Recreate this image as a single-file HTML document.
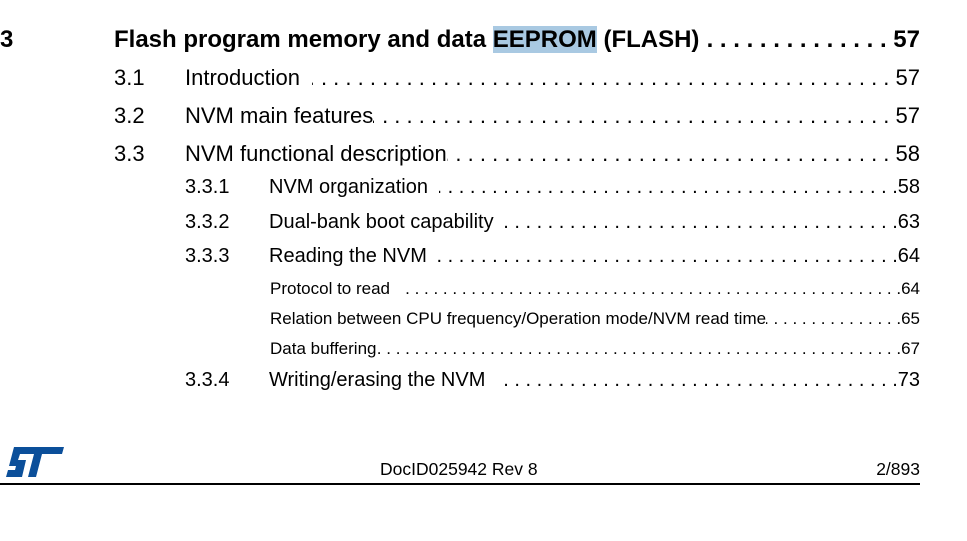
<!DOCTYPE html>
<html><head><meta charset="utf-8"><style>
html,body{margin:0;padding:0;background:#fff;}
body{width:967px;height:541px;position:relative;overflow:hidden;font-family:"Liberation Sans",Arial,sans-serif;color:#000;}
.r{position:absolute;display:flex;align-items:baseline;white-space:nowrap;right:47px;}
.l{flex:1;overflow:hidden;direction:rtl;text-align:left;white-space:nowrap;}
.l span{direction:ltr;}
.a{position:absolute;white-space:nowrap;}
</style></head><body>
<div class="a" style="left:0;top:26px;font-size:24px;font-weight:bold;">3</div>
<div class="r" style="left:114px;top:26px;font-size:24px;font-weight:bold;">
<span>Flash program memory and data <span style="background:#a9c9e2;">EEPROM</span> (FLASH)&nbsp;</span><span class="l"><span>. . . . . . . . . . . . . . . . . . . . . . . . . . . . . . . . . . . . . . . . . . . . . . . . </span></span><span>&nbsp;57</span></div>

<div class="a" style="left:114px;top:65px;font-size:22px;">3.1</div>
<div class="r" style="left:185px;top:65px;font-size:22px;"><span>Introduction &nbsp;</span><span class="l"><span>. . . . . . . . . . . . . . . . . . . . . . . . . . . . . . . . . . . . . . . . . . . . . . . . . . . . . . . . . . </span></span><span>&nbsp;57</span></div>

<div class="a" style="left:114px;top:103px;font-size:22px;">3.2</div>
<div class="r" style="left:185px;top:103px;font-size:22px;"><span>NVM main features</span><span class="l"><span>. . . . . . . . . . . . . . . . . . . . . . . . . . . . . . . . . . . . . . . . . . . . . . . . . . . . . . . . . . </span></span><span>&nbsp;57</span></div>

<div class="a" style="left:114px;top:141px;font-size:22px;">3.3</div>
<div class="r" style="left:185px;top:141px;font-size:22px;"><span>NVM functional description</span><span class="l"><span>. . . . . . . . . . . . . . . . . . . . . . . . . . . . . . . . . . . . . . . . . . . . . . . . . . . . . . . . . . </span></span><span>&nbsp;58</span></div>

<div class="a" style="left:185px;top:176px;font-size:20px;">3.3.1</div>
<div class="r" style="left:269px;top:176px;font-size:20px;"><span>NVM organization &nbsp;</span><span class="l"><span>. . . . . . . . . . . . . . . . . . . . . . . . . . . . . . . . . . . . . . . . . . . . . . . . . . . . . . . . . . </span></span><span>58</span></div>

<div class="a" style="left:185px;top:211px;font-size:20px;">3.3.2</div>
<div class="r" style="left:269px;top:211px;font-size:20px;"><span>Dual-bank boot capability &nbsp;</span><span class="l"><span>. . . . . . . . . . . . . . . . . . . . . . . . . . . . . . . . . . . . . . . . . . . . . . . . . . . . . . . . . . </span></span><span>63</span></div>

<div class="a" style="left:185px;top:245px;font-size:20px;">3.3.3</div>
<div class="r" style="left:269px;top:245px;font-size:20px;"><span>Reading the NVM &nbsp;</span><span class="l"><span>. . . . . . . . . . . . . . . . . . . . . . . . . . . . . . . . . . . . . . . . . . . . . . . . . . . . . . . . . . </span></span><span>64</span></div>

<div class="r" style="left:270px;top:279px;font-size:17px;"><span>Protocol to read &nbsp;</span><span class="l"><span>. . . . . . . . . . . . . . . . . . . . . . . . . . . . . . . . . . . . . . . . . . . . . . . . . . . . . . . . . . . . . . . . . . . . . . . . . . . . . . .</span></span><span>64</span></div>

<div class="r" style="left:270px;top:309px;font-size:17px;"><span>Relation between CPU frequency/Operation mode/NVM read time</span><span class="l"><span>. . . . . . . . . . . . . . . . . . . . . . . . . . . . . . . . . . . .</span></span><span>65</span></div>

<div class="r" style="left:270px;top:339px;font-size:17px;"><span>Data buffering</span><span class="l"><span>. . . . . . . . . . . . . . . . . . . . . . . . . . . . . . . . . . . . . . . . . . . . . . . . . . . . . . . . . . . . . . . . . . . . . . . . . . . . . . .</span></span><span>67</span></div>

<div class="a" style="left:185px;top:369px;font-size:20px;">3.3.4</div>
<div class="r" style="left:269px;top:369px;font-size:20px;"><span>Writing/erasing the NVM &nbsp;</span><span class="l"><span>. . . . . . . . . . . . . . . . . . . . . . . . . . . . . . . . . . . . . . . . . . . . . . . . . . . . . . . . . . </span></span><span>73</span></div>

<svg style="position:absolute;left:6px;top:446px" width="60" height="32" viewBox="0 0 60 32">
<polygon fill="#0b4f9a" points="8,1 58,1 56,8 36,8 30,31 22,31 28,8 14,8 12,14 20,14 16,31 0,31 2,24 9,24 10,20 3,20"/>
</svg>
<div class="a" style="left:380px;top:459px;font-size:17.5px;">DocID025942 Rev 8</div>
<div class="a" style="right:47px;top:459px;font-size:17.5px;">2/893</div>
<div style="position:absolute;left:0;top:483px;width:920px;height:1.5px;background:#000;"></div>
</body></html>
